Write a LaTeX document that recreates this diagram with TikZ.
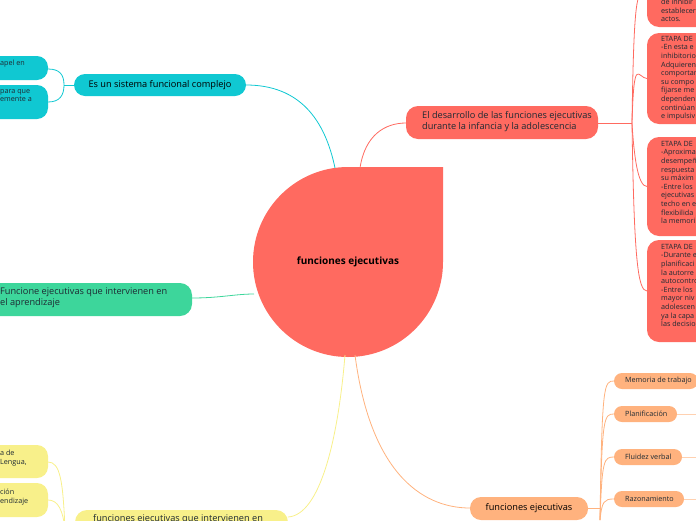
\documentclass[tikz,border=0pt]{standalone}
\usepackage{fontspec}
\setmainfont{Open Sans}
\definecolor{cy}{HTML}{10C8D2}
\definecolor{gr}{HTML}{3DD69B}
\definecolor{ye}{HTML}{F8F08A}
\definecolor{rd}{HTML}{FF6A60}
\definecolor{orn}{HTML}{FFB27E}
\definecolor{txt}{HTML}{1E2A33}
\begin{document}
\begin{tikzpicture}[x=1pt,y=-1pt,
  box/.style={rounded corners=11pt,inner sep=0pt,text=txt},
  sm/.style={font=\fontsize{7.2}{8.6}\selectfont,align=left,anchor=north west,text=txt,inner sep=0pt},
  lk/.style={line width=0.8pt}]
\useasboundingbox (0,0) rectangle (696,520);
\clip (0,0) rectangle (696,520);
% center
\fill[rd] (348,167) -- (443,167) -- (443,262) arc[start angle=0,end angle=270,radius=95] -- cycle;
\node (c) at (348,262) {\fontsize{10}{12}\selectfont\bfseries funciones ejecutivas};
\coordinate (ctop) at (335,168);
% cyan
\fill[cy,rounded corners=11pt] (74,74) rectangle (246,96);
\node (cy1) at (160,85) {\fontsize{9.2}{11}\selectfont Es un sistema funcional complejo};
\fill[cy,rounded corners=11pt] (-30,56) rectangle (48,80);
\node[sm] (cy2) at (0,60) {apel en};
\fill[cy,rounded corners=11pt] (-30,85) rectangle (48,119);
\node[sm] (cy3) at (0,89) {para que\\emente a};
\draw[cy,lk] (246,85) .. controls (300,85) and (325,120) .. (ctop);
\draw[cy,lk] (74,85) -- (64,85);
\draw[cy,lk] (48,69) .. controls (60,69) and (64,75) .. (64,85) .. controls (64,95) and (60,102) .. (48,102);
% green
\fill[gr,rounded corners=12pt] (-20,283) rectangle (192,316);
\node[sm,font=\fontsize{9.2}{11}\selectfont] (g) at (0,288) {Funcione ejecutivas que intervienen en\\el aprendizaje};
\draw[gr,lk] (192,298) .. controls (220,298) and (235,294) .. (254,294);
% yellow
\fill[ye,rounded corners=12pt] (75,510) rectangle (288,545);
\node[sm,font=\fontsize{9.2}{11}\selectfont] (y) at (93,514) {funciones ejecutivas que intervienen en};
\fill[ye,rounded corners=11pt] (-30,445) rectangle (48,478);
\node[sm] (y1) at (0,450) {a de\\Lengua,};
\fill[ye,rounded corners=11pt] (-30,483) rectangle (48,517);
\node[sm] (y2) at (0,489) {ción\\endizaje};
\draw[ye,lk] (345,355) .. controls (338,440) and (320,515) .. (288,517);
\draw[ye,lk] (48,462) .. controls (60,462) and (63,480) .. (65,530);
\draw[ye,lk] (48,500) .. controls (58,500) and (63,510) .. (65,530);
% red
\fill[rd,rounded corners=12pt] (406,106) rectangle (598,139);
\node[sm,font=\fontsize{9.2}{11}\selectfont] (r) at (422,111) {El desarrollo de las funciones ejecutivas\\durante la infancia y la adolescencia};
\draw[rd,lk] (360,168) .. controls (365,135) and (385,123) .. (406,123);
\draw[rd,lk] (598,123) -- (632,123);
\foreach \ya/\yb in {-40/27,33/124,137/236,240/342}{
  \fill[rd,rounded corners=12pt] (647,\ya) rectangle (760,\yb);
  \draw[rd,lk] (632,123) .. controls (634,\ya+20) and (638,{(\ya+\yb)/2}) .. (647,{(\ya+\yb)/2});
}
\node[sm] (r1) at (661,-1) {de inhibir\\establecer\\actos.};
\node[sm] (r2) at (661,36) {ETAPA DE\\-En esta e\\inhibitorio\\Adquieren\\comportam\\su compo\\fijarse me\\dependen\\continúan\\e impulsiv};
\node[sm] (r3) at (661,141) {ETAPA DE\\-Aproxima\\desempeñ\\respuesta\\ su máxim\\-Entre los\\ejecutivas\\techo en e\\flexibilida\\la memori};
\node[sm] (r4) at (661,244) {ETAPA DE\\-Durante e\\planificaci\\la autorre\\autocontro\\-Entre los\\mayor niv\\adolescen\\ ya la capa\\las decisio};
% orange
\fill[orn,rounded corners=11pt] (470,497) rectangle (588,520);
\node (o) at (529,508) {\fontsize{9.2}{11}\selectfont funciones ejecutivas};
\draw[orn,lk] (355,355) .. controls (370,470) and (420,508) .. (470,508);
\draw[orn,lk] (588,508) -- (600,508);
\foreach \ya/\yb/\xr/\t/\n in {373/389/698/Memoria de trabajo/o1,406/422/677/Planificación/o2,449/465/682/Fluidez verbal/o3,491/507/684/Razonamiento/o4}{
  \fill[orn,rounded corners=8pt] (614,\ya) rectangle (\xr,\yb);
  \node[anchor=west,inner sep=0pt,font=\fontsize{7.2}{8}\selectfont,text=txt] (\n) at (625,{(\ya+\yb)/2}) {\t};
  \draw[orn,lk] (600,520) .. controls (602,\ya+10) and (604,{(\ya+\yb)/2}) .. (614,{(\ya+\yb)/2});
  \draw[orn!60,lk] (\xr,{(\ya+\yb)/2}) -- (700,{(\ya+\yb)/2});
}
\end{tikzpicture}
\end{document}
